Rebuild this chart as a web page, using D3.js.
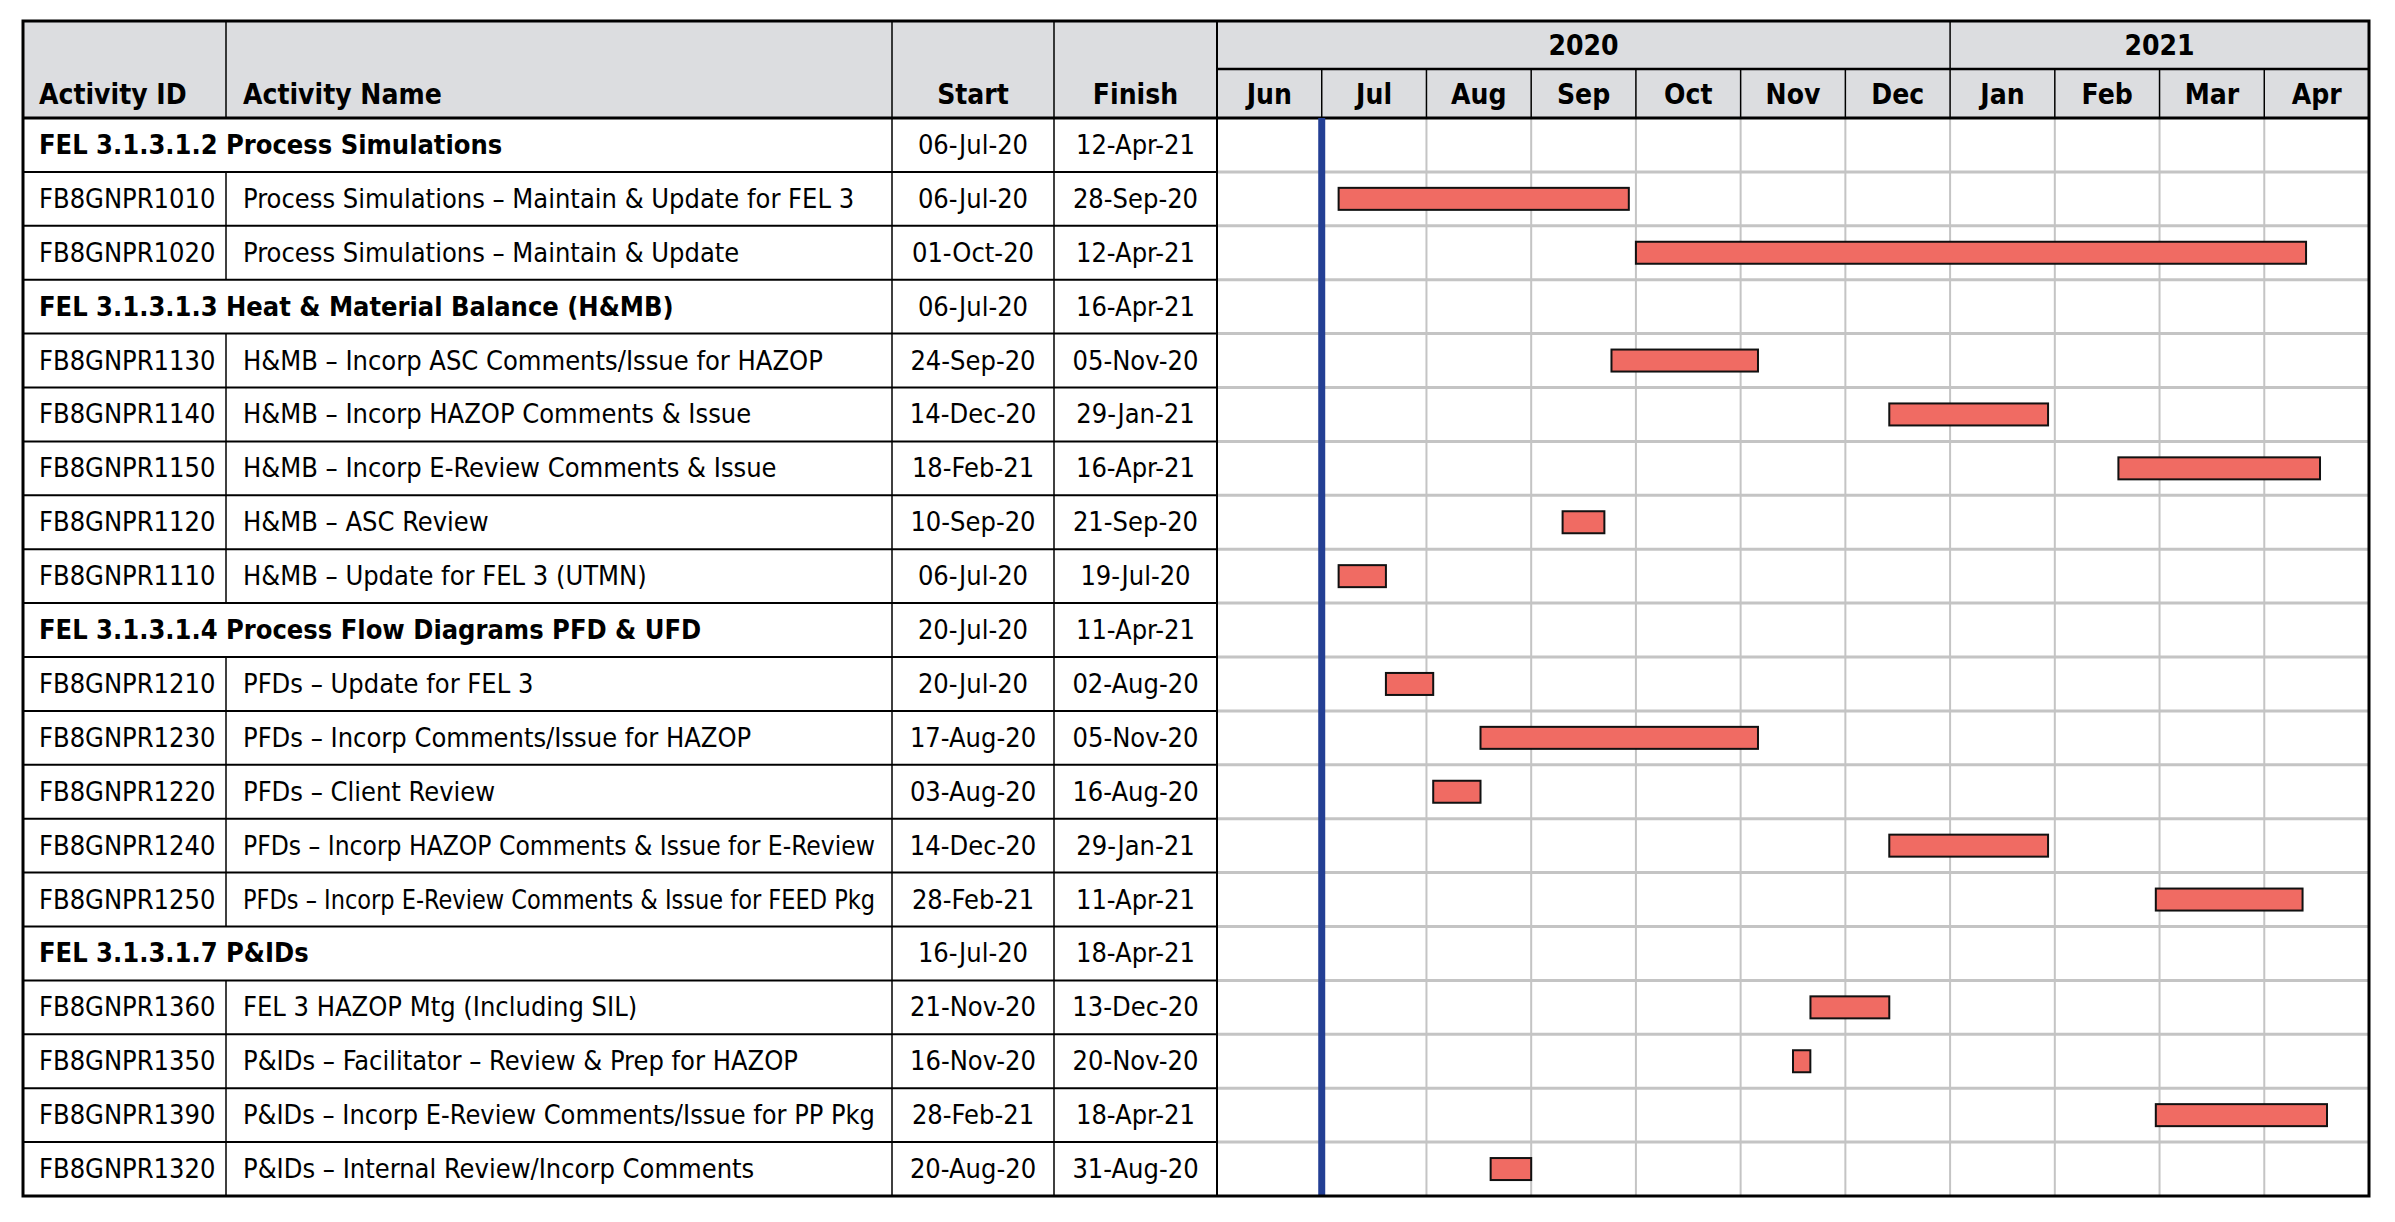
<!DOCTYPE html><html><head><meta charset="utf-8"><script src="https://cdn.jsdelivr.net/npm/d3@7"></script>
<style>body{margin:0;background:#fff}</style></head><body><svg id="c" width="2395" height="1222"></svg>
<script>
const ids=["","FB8GNPR1010","FB8GNPR1020","","FB8GNPR1130","FB8GNPR1140","FB8GNPR1150","FB8GNPR1120","FB8GNPR1110","","FB8GNPR1210","FB8GNPR1230","FB8GNPR1220","FB8GNPR1240","FB8GNPR1250","","FB8GNPR1360","FB8GNPR1350","FB8GNPR1390","FB8GNPR1320"];
const names=["FEL 3.1.3.1.2 Process Simulations","Process Simulations – Maintain & Update for FEL 3","Process Simulations – Maintain & Update","FEL 3.1.3.1.3 Heat & Material Balance (H&MB)","H&MB – Incorp ASC Comments/Issue for HAZOP","H&MB – Incorp HAZOP Comments & Issue","H&MB – Incorp E-Review Comments & Issue","H&MB – ASC Review","H&MB – Update for FEL 3 (UTMN)","FEL 3.1.3.1.4 Process Flow Diagrams PFD & UFD","PFDs – Update for FEL 3","PFDs – Incorp Comments/Issue for HAZOP","PFDs – Client Review","PFDs – Incorp HAZOP Comments & Issue for E-Review","PFDs – Incorp E-Review Comments & Issue for FEED Pkg","FEL 3.1.3.1.7 P&IDs","FEL 3 HAZOP Mtg (Including SIL)","P&IDs – Facilitator – Review & Prep for HAZOP","P&IDs – Incorp E-Review Comments/Issue for PP Pkg","P&IDs – Internal Review/Incorp Comments"];
const starts=["06-Jul-20","06-Jul-20","01-Oct-20","06-Jul-20","24-Sep-20","14-Dec-20","18-Feb-21","10-Sep-20","06-Jul-20","20-Jul-20","20-Jul-20","17-Aug-20","03-Aug-20","14-Dec-20","28-Feb-21","16-Jul-20","21-Nov-20","16-Nov-20","28-Feb-21","20-Aug-20"];
const finishes=["12-Apr-21","28-Sep-20","12-Apr-21","16-Apr-21","05-Nov-20","29-Jan-21","16-Apr-21","21-Sep-20","19-Jul-20","11-Apr-21","02-Aug-20","05-Nov-20","16-Aug-20","29-Jan-21","11-Apr-21","18-Apr-21","13-Dec-20","20-Nov-20","18-Apr-21","31-Aug-20"];
const months=["Jun","Jul","Aug","Sep","Oct","Nov","Dec","Jan","Feb","Mar","Apr"];
const years=[{y:"2020",from:0,to:7},{y:"2021",from:7,to:11}];
const dataDate="01-Jul-20";

const parse=d3.timeParse("%d-%b-%y");
const svg=d3.select("#c");
const L=23,R=2369,T=21,Y1=69,H1=118,B=1196;
const cName=226,cStart=892,cFin=1054,cChart=1217;
const font="'DejaVu Sans Condensed','Liberation Sans Narrow',sans-serif";
function fit(sel,maxW){sel.each(function(){const w=this.getComputedTextLength();if(w>maxW){d3.select(this).attr("textLength",maxW).attr("lengthAdjust","spacingAndGlyphs");}});}
function mIdx(d){const y=d.getFullYear(),m=d.getMonth();const base=(y-2020)*12+m-5;const dim=new Date(y,m+1,0).getDate();return base+(d.getDate()-1)/dim;}
const x=d3.scaleLinear().domain([0,months.length]).range([cChart,R]);
const y=d3.scaleBand().domain(d3.range(names.length)).range([H1,B]);
svg.append("rect").attr("x",L).attr("y",T).attr("width",R-L).attr("height",H1-T).attr("fill","#dcdde0");
const g=svg.append("g");
g.selectAll("line.v").data(d3.range(1,months.length)).join("line").attr("x1",d=>x(d)).attr("x2",d=>x(d)).attr("y1",H1).attr("y2",B).attr("stroke","#c4c4c4").attr("stroke-width",2);
g.selectAll("line.h").data(d3.range(1,names.length)).join("line").attr("x1",cChart).attr("x2",R).attr("y1",d=>y(d)).attr("y2",d=>y(d)).attr("stroke","#c4c4c4").attr("stroke-width",3);
g.selectAll("line.t").data(d3.range(1,names.length)).join("line").attr("x1",L).attr("x2",cChart).attr("y1",d=>y(d)).attr("y2",d=>y(d)).attr("stroke","#000").attr("stroke-width",2);
names.forEach((n,i)=>{
  const line=(x0,w)=>svg.append("line").attr("x1",x0).attr("x2",x0).attr("y1",y(i)).attr("y2",y(i)+y.bandwidth()).attr("stroke","#000").attr("stroke-width",w);
  if(ids[i]) line(cName,1.5);
  line(cStart,1.5);line(cFin,1.5);
});
svg.append("line").attr("x1",cName).attr("x2",cName).attr("y1",T).attr("y2",H1).attr("stroke","#000").attr("stroke-width",1.5);
[cStart,cFin].forEach(c=>svg.append("line").attr("x1",c).attr("x2",c).attr("y1",T).attr("y2",H1).attr("stroke","#000").attr("stroke-width",1.5));
svg.append("line").attr("x1",cChart).attr("x2",cChart).attr("y1",T).attr("y2",B).attr("stroke","#000").attr("stroke-width",2);
d3.range(1,months.length).forEach(i=>svg.append("line").attr("x1",x(i)).attr("x2",x(i)).attr("y1",Y1).attr("y2",H1).attr("stroke","#000").attr("stroke-width",1.5));
svg.append("line").attr("x1",x(7)).attr("x2",x(7)).attr("y1",T).attr("y2",Y1).attr("stroke","#000").attr("stroke-width",1.5);
svg.append("line").attr("x1",cChart).attr("x2",R).attr("y1",Y1).attr("y2",Y1).attr("stroke","#000").attr("stroke-width",2.5);
svg.append("line").attr("x1",L).attr("x2",R).attr("y1",H1).attr("y2",H1).attr("stroke","#000").attr("stroke-width",3);
const ht=(t,xx,yy,anchor)=>svg.append("text").attr("x",xx).attr("y",yy).attr("text-anchor",anchor).attr("font-family",font).attr("font-weight","bold").attr("font-size",28).text(t);
ht("Activity ID",L+16,104,"start");ht("Activity Name",cName+17,104,"start");
ht("Start",(cStart+cFin)/2,104,"middle");ht("Finish",(cFin+cChart)/2,104,"middle");
months.forEach((m,i)=>ht(m,x(i+0.5),104,"middle"));
years.forEach(o=>ht(o.y,(x(o.from)+x(o.to))/2,55,"middle"));
names.forEach((n,i)=>{
  const yy=y(i)+y.bandwidth()/2+9;const grp=!ids[i];
  const t=(s,xx,a,b)=>svg.append("text").attr("x",xx).attr("y",yy).attr("text-anchor",a).attr("font-family",font).attr("font-weight",b?"bold":"normal").attr("font-size",27).text(s);
  if(!grp) fit(t(ids[i],L+16,"start"),cName-L-26);
  fit(t(n,grp?L+16:cName+17,"start",grp),(cStart-(grp?L:cName))-34);
  fit(t(starts[i],(cStart+cFin)/2,"middle"),cFin-cStart-14);
  fit(t(finishes[i],(cFin+cChart)/2,"middle"),cChart-cFin-14);
});
const bh=22;
svg.append("g").selectAll("rect").data(d3.range(names.length).filter(i=>ids[i])).join("rect")
 .attr("x",i=>x(mIdx(parse(starts[i])))).attr("width",i=>x(mIdx(parse(finishes[i])))-x(mIdx(parse(starts[i])))+x(1/31)-x(0))
 .attr("y",i=>y(i)+y.bandwidth()/2-bh/2).attr("height",bh).attr("fill","#f06b63").attr("stroke","#111").attr("stroke-width",2);
const dx=x(mIdx(parse(dataDate)));
svg.append("line").attr("x1",dx).attr("x2",dx).attr("y1",H1).attr("y2",B).attr("stroke","#233f94").attr("stroke-width",7);
svg.append("rect").attr("x",L).attr("y",T).attr("width",R-L).attr("height",B-T).attr("fill","none").attr("stroke","#000").attr("stroke-width",3);
</script></body></html>
